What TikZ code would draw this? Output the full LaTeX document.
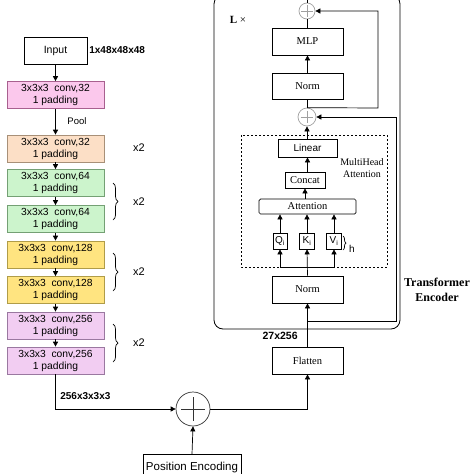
\documentclass[tikz,border=0pt]{standalone}
\usepackage{fontspec}
\setmainfont{Liberation Serif}
\setsansfont{Liberation Sans}
\usetikzlibrary{arrows.meta,decorations.pathreplacing,calc}
\definecolor{pinkF}{HTML}{FBC8EC}
\definecolor{pinkD}{HTML}{A8608F}
\definecolor{orF}{HTML}{FCDFC6}
\definecolor{orD}{HTML}{A89078}
\definecolor{grF}{HTML}{CCF4CC}
\definecolor{grD}{HTML}{74A074}
\definecolor{yeF}{HTML}{FFE480}
\definecolor{yeD}{HTML}{B09C48}
\definecolor{puF}{HTML}{F2CDF2}
\definecolor{puD}{HTML}{9A78A0}
\definecolor{lineC}{HTML}{333333}
\definecolor{circC}{HTML}{A0A0A0}
\begin{document}
\begin{tikzpicture}[x=1pt,y=-1pt, line width=0.7pt,
  arr/.style={-{Triangle[length=5pt,width=5pt]}},
  conv/.style={draw, minimum width=97pt, minimum height=27pt, inner sep=0pt, align=center,
    font=\sffamily\fontsize{10.3}{12}\selectfont},
  wbox/.style={draw, fill=white, minimum width=71pt, minimum height=27pt, inner sep=0pt,
    font=\fontsize{10.5}{12}\selectfont},
  sbox/.style={draw, fill=white, inner sep=0pt, font=\fontsize{10.5}{12}\selectfont},
  lbl/.style={font=\sffamily\bfseries\fontsize{10}{12}\selectfont, inner sep=0pt},
  xtwo/.style={font=\sffamily\fontsize{11}{12}\selectfont, inner sep=0pt},
  plus/.style={draw, circle, minimum size=#1, inner sep=0pt,
    path picture={\draw ($(path picture bounding box.north)!0.15!(path picture bounding box.south)$) -- ($(path picture bounding box.south)!0.15!(path picture bounding box.north)$);
                  \draw ($(path picture bounding box.west)!0.15!(path picture bounding box.east)$) -- ($(path picture bounding box.east)!0.15!(path picture bounding box.west)$);}},
  brc/.style={decorate, decoration={brace, amplitude=5pt}}
]
\useasboundingbox (0,0) rectangle (474,474);
\clip (0,0) rectangle (474,474);

% ---------- left column ----------
\node[draw, minimum width=63pt, minimum height=27pt, inner sep=0pt,
  font=\sffamily\fontsize{10.5}{12}\selectfont] (inp) at (55.5,50.5) {Input};
\node[lbl, anchor=west] (inl) at (89,50.5) {1x48x48x48};
\node[conv, fill=pinkF, draw=pinkD] (c1) at (55.5,95) {3x3x3~~conv,32\\1 padding};
\node[conv, fill=orF, draw=orD] (c2) at (55.5,148.5) {3x3x3~~conv,32\\1 padding};
\node[conv, fill=grF, draw=grD] (c3) at (55.5,183) {3x3x3~~conv,64\\1 padding};
\node[conv, fill=grF, draw=grD] (c4) at (55.5,219) {3x3x3~~conv,64\\1 padding};
\node[conv, fill=yeF, draw=yeD] (c5) at (55.5,254.5) {3x3x3~~conv,128\\1 padding};
\node[conv, fill=yeF, draw=yeD] (c6) at (55.5,290) {3x3x3~~conv,128\\1 padding};
\node[conv, fill=puF, draw=puD] (c7) at (55.5,325.5) {3x3x3~~conv,256\\1 padding};
\node[conv, fill=puF, draw=puD] (c8) at (55.5,360.5) {3x3x3~~conv,256\\1 padding};

\node[font=\sffamily\fontsize{9.5}{12}\selectfont, inner sep=0pt] (pool) at (77,121) {Pool};

\draw[arr] (inp) -- (c1);
\draw[arr] (c1) -- (c2);
\draw[arr] (c2) -- (c3);
\draw[arr] (c3) -- (c4);
\draw[arr] (c4) -- (c5);
\draw[arr] (c5) -- (c6);
\draw[arr] (c6) -- (c7);
\draw[arr] (c7) -- (c8);

\node[xtwo] (x2a) at (139,148) {x2};
\coordinate (b1t) at (113,183); \coordinate (b1b) at (113,220);
\draw[brc] (b1t) -- (b1b);
\node[xtwo] (x2b) at (139,202) {x2};
\coordinate (b2t) at (113,253); \coordinate (b2b) at (113,291);
\draw[brc] (b2t) -- (b2b);
\node[xtwo] (x2c) at (139,272) {x2};
\coordinate (b3t) at (113,324); \coordinate (b3b) at (113,362);
\draw[brc] (b3t) -- (b3b);
\node[xtwo] (x2d) at (139,343) {x2};

% ---------- merge ----------
\node[plus=34pt, draw=lineC] (pl) at (193,409) {};
\node[lbl, anchor=west] (l256) at (60,396) {256x3x3x3};
\draw[arr] (c8.south) |- (pl.west);
\node[draw, minimum width=98pt, minimum height=26pt, inner sep=0pt, anchor=north,
  font=\sffamily\fontsize{11.5}{12}\selectfont] (pe) at (192,454) {Position Encoding};
\draw[arr] (pe.north) -- (pl.south);

% ---------- encoder ----------
\draw[rounded corners=9pt, line width=0.8pt] (214,-5) rectangle (400,329);
\node[wbox] (fl) at (307.5,360.5) {Flatten};
\draw[arr] (pl.east) -| (fl.south);
\node[lbl, anchor=east, font=\sffamily\bfseries\fontsize{10.5}{12}\selectfont] (l27) at (298,336) {27x256};

\node[wbox] (n2) at (307.5,289.5) {Norm};
\draw[arr] (fl.north) -- (n2.south);

\draw[dashed, line width=0.6pt, dash pattern=on 2pt off 2pt] (241,135) rectangle (387,267);
\node[font=\fontsize{10}{12.5}\selectfont, align=center, inner sep=0pt] (mha) at (362,168) {MultiHead\\Attention};

\node[draw, fill=white, minimum width=14pt, minimum height=16pt, inner sep=0pt, font=\sffamily\fontsize{10}{12}\selectfont] (q) at (280,241) {Q\textsubscript{i}};
\node[draw, fill=white, minimum width=15pt, minimum height=16pt, inner sep=0pt, font=\sffamily\fontsize{10}{12}\selectfont] (k) at (307,241) {K\textsubscript{i}};
\node[draw, fill=white, minimum width=15pt, minimum height=16pt, inner sep=0pt, font=\sffamily\fontsize{10}{12}\selectfont] (v) at (334,241) {V\textsubscript{i}};
\coordinate (hb1) at (343,236); \coordinate (hb2) at (343,250);
\draw[decorate, decoration={brace, amplitude=3pt}] (hb1) -- (hb2);
\node[font=\sffamily\fontsize{10}{12}\selectfont, inner sep=0pt] (hh) at (352,249) {h};

\coordinate (br) at (307,267);
\coordinate (brq) at (280,267);
\coordinate (brv) at (334,267);
\draw (brq) -- (brv);
\draw[arr] (n2.north) -- (k.south);
\draw[arr] (brq) -- (q.south);
\draw[arr] (brv) -- (v.south);

\node[sbox, rounded corners=1.5pt, minimum width=97pt, minimum height=15pt] (att) at (307.5,206.5) {Attention};
\draw[arr] (q.north) -- (q.north |- att.south);
\draw[arr] (k.north) -- (k.north |- att.south);
\draw[arr] (v.north) -- (v.north |- att.south);

\node[sbox, minimum width=40pt, minimum height=16pt] (cc) at (305,180) {Concat};
\node[sbox, minimum width=59pt, minimum height=18pt, font=\sffamily\fontsize{10}{12}\selectfont] (lin) at (307.5,148) {Linear};
\draw[arr] (att.north -| cc) -- (cc.south);
\draw[arr] (cc.north -| lin) -- (lin.south);

\node[plus=18pt, draw=circC] (p2) at (307,117) {};
\draw[arr] (lin.north -| p2) -- (p2.south);

\node[wbox, minimum height=26pt] (n1) at (307.5,86) {Norm};
\node[wbox] (mlp) at (307.5,41.5) {MLP};
\node[plus=16pt, draw=circC] (p1) at (307,11) {};
\draw (p2.north) -- (p2.north |- n1.south);
\draw[arr] (n1.north) -- (mlp.south);
\draw (mlp.north -| p1) -- (p1.south);
\coordinate (ptop) at (307,-2);
\draw (p1.north) -- (ptop);

% skip connections
\coordinate (s1a) at (378,108);
\coordinate (s1b) at (378,11);
\draw[arr] (p2.north) -- (s1a) -- (s1b) -- (p1.east);
\coordinate (s2o) at (307,321);
\coordinate (s2a) at (396,321);
\coordinate (s2b) at (396,117);
\draw[arr] (s2o) -- (s2a) -- (s2b) -- (p2.east);

\node[font=\fontsize{11}{12}\selectfont, inner sep=0pt] (lx) at (238,20) {\textbf{L} \texttimes};
\node[font=\bfseries\fontsize{12}{15}\selectfont, align=center, inner sep=0pt] (te) at (437,290) {Transformer\\Encoder};
\end{tikzpicture}
\end{document}
